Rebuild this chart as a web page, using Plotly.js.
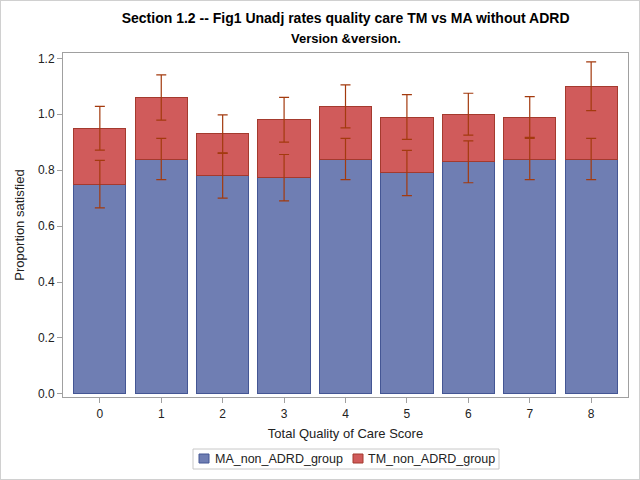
<!DOCTYPE html>
<html>
<head>
<meta charset="utf-8">
<script src="https://cdn.plot.ly/plotly-3.0.1.min.js"></script>
<style>
  html, body { margin: 0; padding: 0; background: #fff; }
  #wrap { position: relative; width: 640px; height: 480px; }
  #chart { width: 640px; height: 480px; }
  #frame { position: absolute; left: 0; top: 0; width: 638px; height: 478px; border: 1px solid #d0d0d0; pointer-events: none; }
</style>
</head>
<body>
<div id="wrap"><div id="chart"></div><div id="frame"></div></div>
<script>
const scores = [0, 1, 2, 3, 4, 5, 6, 7, 8];
const maValues = [0.75, 0.84, 0.78, 0.773, 0.84, 0.79, 0.83, 0.84, 0.84];
const tmValues = [0.20, 0.22, 0.15, 0.207, 0.188, 0.20, 0.17, 0.15, 0.26];
const maErr = [0.085, 0.074, 0.08, 0.083, 0.074, 0.081, 0.075, 0.074, 0.074];
const tmErr = [0.078, 0.081, 0.068, 0.08, 0.077, 0.08, 0.075, 0.073, 0.087];
const seriesNames = ['MA_non_ADRD_group', 'TM_non_ADRD_group'];

// top of each stacked TM segment (where its error bar is centred)
const tmTop = tmValues.map((v, i) => v + maValues[i]);

const errColor = '#A33A0E';
const font = 'Liberation Sans, Arial, sans-serif';
const errStyle = { color: errColor, thickness: 1.2, width: 5 };
const fills = ['#6F7EB3', '#D05B5B'];
const edges = ['#445694', '#A43A2E'];

// plot-area geometry (pixels) used to place the hand-built legend
const M = { l: 63, r: 12, t: 53, b: 83 };
const PW = 640 - M.l - M.r, PH = 480 - M.t - M.b;
const px = v => (v - M.l) / PW;
const py = v => (480 - M.b - v) / PH;

const traces = [
  {
    type: 'bar', x: scores, y: maValues, name: seriesNames[0],
    marker: { color: fills[0], line: { color: edges[0], width: 1 } },
    hoverinfo: 'none'
  },
  {
    type: 'bar', x: scores, y: tmValues, name: seriesNames[1],
    marker: { color: fills[1], line: { color: edges[1], width: 1 } },
    hoverinfo: 'none'
  },
  {
    type: 'scatter', mode: 'markers', x: scores, y: maValues, showlegend: false,
    marker: { size: 1, color: 'rgba(0,0,0,0)' },
    error_y: Object.assign({ type: 'data', array: maErr, visible: true }, errStyle),
    hoverinfo: 'none'
  },
  {
    type: 'scatter', mode: 'markers', x: scores, y: tmTop, showlegend: false,
    marker: { size: 1, color: 'rgba(0,0,0,0)' },
    error_y: Object.assign({ type: 'data', array: tmErr, visible: true }, errStyle),
    hoverinfo: 'none'
  }
];

const legendShapes = [
  { type: 'rect', xref: 'paper', yref: 'paper', x0: px(193), x1: px(499), y0: py(469), y1: py(449),
    line: { color: '#c8c8c8', width: 1 }, fillcolor: '#fff' },
  { type: 'rect', xref: 'paper', yref: 'paper', x0: px(199), x1: px(209), y0: py(463), y1: py(454),
    line: { color: edges[0], width: 1 }, fillcolor: fills[0] },
  { type: 'rect', xref: 'paper', yref: 'paper', x0: px(353), x1: px(363), y0: py(463), y1: py(454),
    line: { color: edges[1], width: 1 }, fillcolor: fills[1] }
];
const legendTexts = [
  { text: seriesNames[0], x: px(213), y: py(458.5) },
  { text: seriesNames[1], x: px(366), y: py(458.5) }
].map(a => Object.assign(a, {
  xref: 'paper', yref: 'paper', xanchor: 'left', yanchor: 'middle', showarrow: false,
  font: { family: font, size: 12.5, color: '#222' }
}));

const layout = {
  width: 640, height: 480,
  margin: M,
  paper_bgcolor: '#fff', plot_bgcolor: '#fff',
  barmode: 'stack', bargap: 0.15,
  font: { family: font, size: 12, color: '#000' },
  title: {
    text: '<b>Section 1.2 -- Fig1 Unadj rates quality care TM vs MA without ADRD</b>',
    font: { family: font, size: 14, color: '#000' },
    x: 0.54, xanchor: 'center', xref: 'container',
    y: 1 - 13 / 480, yanchor: 'top', yref: 'container'
  },
  shapes: legendShapes,
  annotations: [{
    text: '<b>Version &version.</b>', showarrow: false,
    xref: 'paper', x: 0.5, xanchor: 'center',
    yref: 'paper', y: py(38.5), yanchor: 'middle',
    font: { family: font, size: 13, color: '#000' }
  }].concat(legendTexts),
  xaxis: {
    range: [-0.6, 8.6], tickmode: 'array', tickvals: scores, ticktext: scores.map(String),
    showline: true, mirror: true, linecolor: '#a0a0a0', linewidth: 1,
    ticks: 'outside', ticklen: 5, tickcolor: '#a0a0a0', showgrid: false, zeroline: false,
    ticklabelstandoff: 1,
    tickfont: { size: 12, color: '#222' },
    title: { text: 'Total Quality of Care Score', font: { size: 13, color: '#222' }, standoff: 8 }
  },
  yaxis: {
    range: [-0.011, 1.219], dtick: 0.2, tick0: 0, tickformat: '.1f',
    showline: true, mirror: true, linecolor: '#a0a0a0', linewidth: 1,
    ticks: 'outside', ticklen: 5, tickcolor: '#a0a0a0', showgrid: false, zeroline: false,
    tickfont: { size: 12, color: '#222' },
    title: { text: 'Proportion satisfied', font: { size: 13, color: '#222' }, standoff: 10 }
  },
  showlegend: false
};

Plotly.newPlot('chart', traces, layout, { displayModeBar: false, staticPlot: true });
</script>
</body>
</html>
